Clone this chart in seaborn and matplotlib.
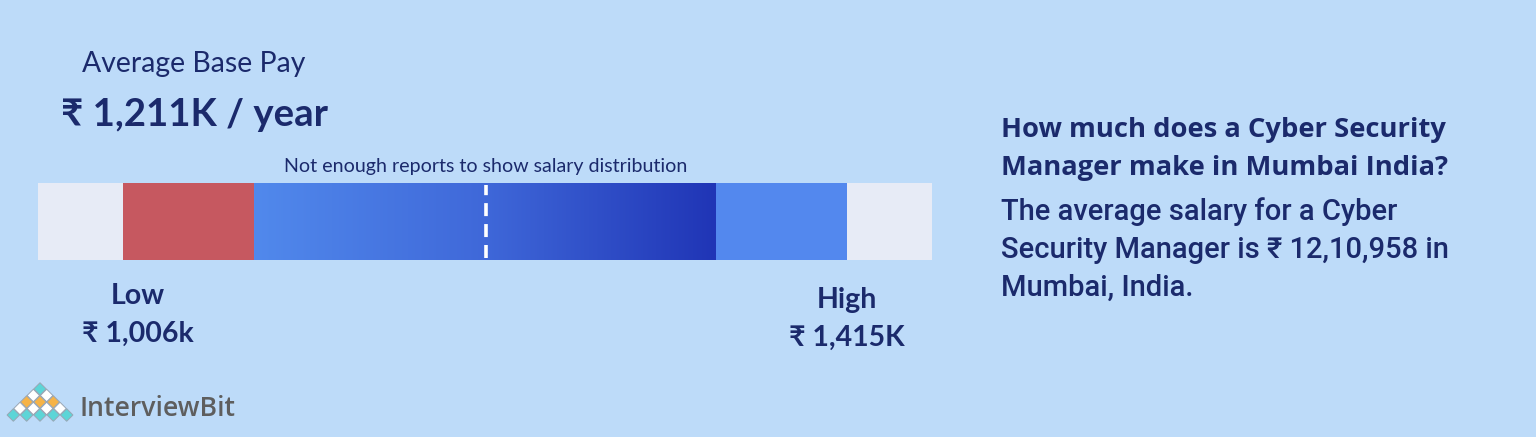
import numpy as np
import matplotlib
matplotlib.use("Agg")
import matplotlib.pyplot as plt
from matplotlib.patches import Polygon
from matplotlib.colors import LinearSegmentedColormap
import seaborn as sns

# ---------------- data ----------------
scale_edges = [814, 889, 1006, 1415, 1532, 1607]   # salary scale (K INR) for bar segments
segment_kinds = ["empty", "low", "gradient", "high", "empty"]
avg_pay_k = 1211
low_pay_k = 1006
high_pay_k = 1415
title_label = "Average Base Pay"
avg_label = "₹ 1,211K / year"
note_label = "Not enough reports to show salary distribution"
low_labels = ["Low", "₹ 1,006k"]
high_labels = ["High", "₹ 1,415K"]
question_lines = ["How much does a Cyber Security", "Manager make in Mumbai India?"]
answer_lines = ["The average salary for a Cyber",
                "Security Manager is ₹ 12,10,958 in",
                "Mumbai, India."]
brand = "InterviewBit"
logo_rows = [["t"], ["w", "w"], ["o", "o", "o"], ["w", "w", "w", "w"], ["t", "t", "t", "t", "t"]]

# ---------------- style ----------------
BG = "#bddbf9"
NAVY = "#1b2a6c"
seg_colors = {"empty": "#e7ebf6", "low": "#c65860", "high": "#5388ee"}
logo_colors = {"t": "#5dd5d7", "w": "#ffffff", "o": "#f6b347"}

sns.set_theme(style="white")
plt.rcParams["font.family"] = ["Lato", "DejaVu Sans"]
OPEN = ["Open Sans", "DejaVu Sans"]
ROBO = ["Roboto", "DejaVu Sans"]

W, H = 1536, 437
fig = plt.figure(figsize=(W / 100, H / 100), dpi=100)
fig.patch.set_facecolor(BG)


def fx(x):
    return x / W


def fy(y):
    return 1 - y / H


# ---------------- salary bar ----------------
ax = fig.add_axes([fx(38), fy(260), fx(932 - 38), (260 - 183) / H])
ax.set_xlim(scale_edges[0], scale_edges[-1])
ax.set_ylim(0, 1)
lefts = scale_edges[:-1]
widths = np.diff(scale_edges)
for left, width, kind in zip(lefts, widths, segment_kinds):
    if kind == "gradient":
        cmap = LinearSegmentedColormap.from_list("g", ["#5189ec", "#3f68d9", "#2035b6"])
        grad = np.linspace(0, 1, 256).reshape(1, -1)
        ax.imshow(grad, cmap=cmap, extent=(left, left + width, 0, 1), aspect="auto", zorder=2)
    else:
        ax.barh(0.5, width, left=left, height=1, color=seg_colors[kind], linewidth=0, zorder=1)
ax.axvline(avg_pay_k, ymin=0.02, ymax=0.98, color="white", lw=2.6,
           linestyle=(0, (3.6, 2.2)), zorder=3)
ax.axis("off")

# ---------------- texts ----------------
fig.text(fx(82), fy(72), title_label, color=NAVY, fontsize=20.4, va="baseline", ha="left")
fig.text(fx(61), fy(126), avg_label, color=NAVY, fontsize=27.6, fontweight="bold",
         va="baseline", ha="left")
fig.text(fx(486), fy(172), note_label, color=NAVY, fontsize=14.1, va="baseline", ha="center")

fig.text(fx(138), fy(304), low_labels[0], color=NAVY, fontsize=20.5, fontweight="bold",
         va="baseline", ha="center")
fig.text(fx(138), fy(342), low_labels[1], color=NAVY, fontsize=20.5, fontweight="bold",
         va="baseline", ha="center")
fig.text(fx(847), fy(308), high_labels[0], color=NAVY, fontsize=20.5, fontweight="bold",
         va="baseline", ha="center")
fig.text(fx(847), fy(346), high_labels[1], color=NAVY, fontsize=20.5, fontweight="bold",
         va="baseline", ha="center")

qy = [137, 175]
for line, y in zip(question_lines, qy):
    fig.text(fx(1001), fy(y), line, color=NAVY, fontsize=19.7, fontweight="bold",
             family=OPEN, va="baseline", ha="left")
ay = [220, 258, 296]
for line, y in zip(answer_lines, ay):
    fig.text(fx(1001), fy(y), line, color=NAVY, fontsize=21, fontweight="medium",
             family=ROBO, va="baseline", ha="left")

# ---------------- logo ----------------
lax = fig.add_axes([fx(0), fy(437), fx(260), 67 / H])
lax.set_xlim(0, 260)
lax.set_ylim(437, 370)
lax.axis("off")
h = 6.67
cx0, cy0 = 40, 389
for r, row in enumerate(logo_rows):
    for i, c in enumerate(row):
        cx = cx0 - r * h + 2 * i * h
        cy = cy0 + r * 6.5
        d = h - 0.4
        poly = Polygon([(cx, cy - d), (cx + d, cy), (cx, cy + d), (cx - d, cy)],
                       closed=True, facecolor=logo_colors[c], edgecolor="#9aa6b4", lw=0.7)
        lax.add_patch(poly)
lax.text(80, 416, brand, color="#5e5e5e", fontsize=19.2, fontweight="semibold",
         family=OPEN, va="baseline", ha="left")

fig.savefig("out.png", dpi=100, facecolor=BG)
